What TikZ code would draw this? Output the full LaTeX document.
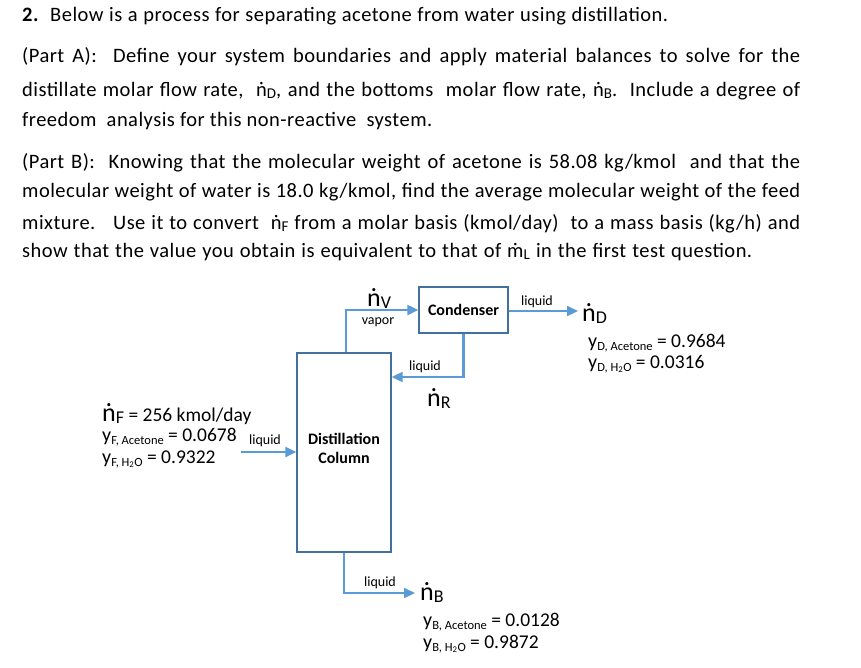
\documentclass[tikz,border=0pt]{standalone}
\usepackage{fontspec}
\setmainfont{Carlito}
\usetikzlibrary{arrows.meta}

\definecolor{streamblue}{HTML}{5B9BD5}
\definecolor{boxblue}{HTML}{41719C}

\newcommand{\fsz}[1]{\fontsize{#1}{#1}\selectfont}
% inline flow symbol in the question text
\newcommand{\ndot}[1]{ṅ{\fsz{15}\raisebox{-2pt}{#1}}}
% flow symbol in the diagram
\newcommand{\flowlbl}[1]{{\fsz{26}ṅ}\raisebox{-2.5pt}{\fsz{18}#1}}
% mole fraction line
\newcommand{\molfrac}[2]{{\fsz{20}y}\raisebox{-3pt}{\fsz{12.5}#1}{\fsz{19.5} = #2}}
\newcommand{\water}{H\textsubscript{2}O}

\tikzset{
    txtline/.style = {anchor=base west, inner sep=0pt, font=\fsz{20.5}\addfontfeature{LetterSpace=2.3}},
    unit/.style = {draw=boxblue, line width=1.4pt, inner sep=0pt},
    unittxt/.style = {align=center, font=\bfseries\fsz{16}, inner sep=0pt},
    stream/.style = {draw=streamblue, line width=2.2pt, -{Triangle[length=11pt,width=10pt]}},
    tag/.style = {font=\fsz{14}, inner sep=0pt},
    lbl/.style = {anchor=base west, inner sep=0pt},
}

\begin{document}
\begin{tikzpicture}[x=1pt, y=-1pt]
    \useasboundingbox[fill=white] (0,0) rectangle (861,667);

    % question text
    \node[txtline] (line1) at (22,21) {\makebox[646pt][s]{\textbf{2.}\ \ Below is a process for separating acetone from water using distillation.}};
    \node[txtline] (line2) at (22,62) {\makebox[778pt][s]{(Part A):\ \ Define your system boundaries and apply material balances to solve for the}};
    \node[txtline] (line3) at (22,96) {\makebox[778pt][s]{distillate molar flow rate,\ \ \ndot{D}, and the bottoms\ \ molar flow rate, \ndot{B}.\ \ Include a degree of}};
    \node[txtline] (line4) at (22,126) {freedom\ \ analysis for this non-reactive\ \ system.};
    \node[txtline] (line5) at (22,168) {\makebox[778pt][s]{(Part B):\ \ Knowing that the molecular weight of acetone is 58.08 kg/kmol\ \ and that the}};
    \node[txtline] (line6) at (22,197) {\makebox[778pt][s]{molecular weight of water is 18.0 kg/kmol, find the average molecular weight of the feed}};
    \node[txtline] (line7) at (22,229) {\makebox[778pt][s]{mixture.\ \ \ Use it to convert\ \ \ndot{F} from a molar basis (kmol/day)\ \ to a mass basis (kg/h) and}};
    \node[txtline] (line8) at (22,257) {\makebox[730pt][s]{show that the value you obtain is equivalent to that of ṁ{\fsz{15}\raisebox{-2pt}{L}} in the first test question.}};

    % units
    \node[unit, minimum width=94pt, minimum height=199pt] (col) at (344,452.5) {};
    \node[unittxt] (coltxt) at ([yshift=4pt]col.center) {Distillation\\[3pt]Column};
    \node[unit, unittxt, minimum width=89pt, minimum height=46pt] (cond) at (463.5,310) {Condenser};

    % streams
    \coordinate (rbend) at (463.5,377);
    \coordinate (dend) at (578,311);
    \coordinate (fstart) at (241,452);
    \coordinate (bend) at (415,593);
    \draw[stream] ([xshift=2pt]col.north) |- (cond.west);
    \draw[stream] (cond.south) -- (rbend) -- (rbend -| col.east);
    \draw[stream] (cond.east |- dend) -- (dend);
    \draw[stream] (fstart) -- (fstart -| col.west);
    \draw[stream] (col.south) |- (bend);

    % stream tags
    \node[tag] (tvap) at (378,322) {vapor};
    \node[tag] (tref) at (425,367) {liquid};
    \node[tag] (tdis) at (537,302) {liquid};
    \node[tag] (tfeed) at (265,441) {liquid};
    \node[tag] (tbot) at (380,583) {liquid};

    % flow labels
    \node[lbl] (nv) at (367,306) {\flowlbl{V}};
    \node[lbl] (nr) at (427,406) {\flowlbl{R}};
    \node[lbl] (nd) at (582,321) {\flowlbl{D}};
    \node[lbl] (nb) at (420,600) {\flowlbl{B}};
    \node[lbl] (nf) at (102,421) {\flowlbl{F}{\fsz{19.5} = 256 kmol/day}};

    % compositions
    \node[lbl] (yfa) at (102,441) {\molfrac{F, Acetone}{0.0678}};
    \node[lbl] (yfw) at (102,463) {\molfrac{F, \water}{0.9322}};
    \node[lbl] (yda) at (588,347) {\molfrac{D, Acetone}{0.9684}};
    \node[lbl] (ydw) at (588,368) {\molfrac{D, \water}{0.0316}};
    \node[lbl] (yba) at (423,626) {\molfrac{B, Acetone}{0.0128}};
    \node[lbl] (ybw) at (423,648) {\molfrac{B, \water}{0.9872}};
\end{tikzpicture}
\end{document}
